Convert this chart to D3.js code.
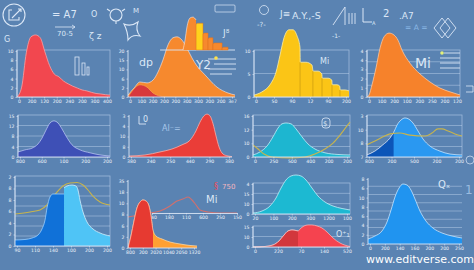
<!DOCTYPE html>
<html>
<head>
<meta charset="utf-8">
<title>distributions collage</title>
<style>
  html, body { margin: 0; padding: 0; background: #5a83b2; }
  svg { display: block; }
  text { font-family: 'DejaVu Sans', sans-serif; }
</style>
<script src="https://cdn.jsdelivr.net/npm/d3@7/dist/d3.min.js"></script>
</head>
<body>
<svg id="chart" width="474" height="270"></svg>
<script>
// curve data: [x (0-100 across panel), y (0-10 = panel height)]
var redA = [[0,0],[5,2.1],[10,9.4],[15,12.8],[20,13.2],[25,12.6],[30,9.6],[35,6.7],[40,4.9],[45,4.3],[50,3.4],[55,2.8],[60,2.3],[65,1.9],[70,1.5],[75,1.3],[80,1.0],[85,0.75],[90,0.64],[95,0.5],[100,0.4]];
var orangeB = [[0,0.4],[5.6,1.9],[11.2,3.2],[17.8,3.0],[23.4,3.6],[28,5.3],[32.7,7.9],[37.4,11.1],[42,12.6],[45.8,12.8],[50.5,12.1],[55.1,10.4],[59.8,8.3],[64.5,6.6],[72,4.7],[83.2,2.1],[93.5,0.85],[100,0.43]];
var darkRedB = [[0,0],[4.7,1.5],[11.2,2.6],[17.8,2.1],[23.4,0.85],[30,0.2],[34.6,0]];
var humpB = [[51.4,10],[53.3,12.1],[55.1,14.9],[57.9,16.8],[60.7,17.0],[63.6,16.4]];
var barsB = [[63.6,70.1,15.7],[70.1,74.8,13.6],[74.8,79.4,12.6],[79.4,87.9,11.5],[87.9,93.5,10.6]];
var yellowC = [[0,0.4],[8.4,1.1],[16.8,2.6],[23.2,5.3],[27.4,8.9],[31.6,12.6],[36.8,14.3],[41.1,14.3],[45.3,13.0],[48.4,10.6],[48.7,7.4],[54.7,7.4],[61,6.8],[62.3,5.5],[67.4,5.5],[71.4,4.9],[71.8,4.0],[77.9,4.0],[81.9,3.6],[82.3,2.6],[87.4,2.6],[90.3,2.3],[90.7,1.5],[95.8,1.5],[100,1.3]];
var stepsC = [48.5, 62, 71.6, 82.1, 90.5];
var orangeD = [[0,0],[2.2,0.43],[5.4,2.6],[9.7,6.2],[14,10.4],[18.3,12.8],[23.7,13.6],[29,13.2],[33.3,12.1],[37.6,10],[46.2,7.2],[57,4.9],[67.7,3.2],[78.5,1.9],[89.2,1.1],[100,0.43]];
var indigoE = [[0,1.2],[7.6,1.7],[15.2,2.1],[21.7,3.1],[26.1,4.5],[30.4,6.4],[34.8,8.1],[39.1,8.6],[43.5,8.1],[47.8,6.7],[52.2,5.0],[58.7,2.9],[67.4,1.7],[78.3,1.0],[89.1,0.5],[100,0.24]];
var redF = [[0,0.24],[15.5,0.48],[30.1,1.2],[41.7,1.9],[51.5,2.9],[59.2,4.0],[65,6.2],[68.9,8.3],[72.8,9.8],[75.7,10.2],[78.6,9.8],[81.6,7.9],[84.5,5.0],[87.4,2.4],[91.3,0.7],[96.1,0.24],[100,0.1]];
var cyanG = [[0,0.48],[7.2,1.2],[14.4,2.6],[20.6,4.8],[25.8,6.9],[29.9,7.9],[34,8.1],[39.2,7.9],[44.3,6.7],[50.5,4.8],[56.7,3.1],[63.9,1.9],[74.2,1.0],[87.6,0.6],[100,0.48]];
var lineG = [[0,2.9],[5.2,1.9],[11.3,0.7],[19.6,0],[38.1,-0.2],[53.6,0],[63.9,0.7],[74.2,1.9],[82.5,3.3],[89.7,5.2],[95.9,7.1],[100,8.3]];
var blueH = [[0,0.48],[8.4,1.4],[16.8,2.9],[24.2,4.5],[28.4,6.0],[31.6,7.6],[35.8,8.8],[40,9.3],[44.2,9.0],[48.4,8.1],[53.7,6.2],[58.9,4.3],[66.3,2.6],[76.8,1.4],[87.4,0.7],[100,0.48]];
var lineH = [[0,2.9],[8.4,3.8],[16.8,4.8],[24.2,5.5],[34.7,5.7],[45.3,5.2],[61.1,5.0],[68.4,5.7],[74.7,6.7],[78.9,6.7],[85.3,6.2],[92.6,5.5],[100,5.0]];
var darkI = [[0,0.86],[10.5,0.93],[17.9,1.14],[24.2,1.57],[28.4,2.43],[31.6,3.71],[33.7,5.43],[36.8,7.0],[40,7.43],[45.3,7.43],[51.6,7.43]];
var lightI = [[51.6,8.29],[54.7,8.57],[60,8.71],[64.2,8.57],[66.3,8.0],[68.4,6.57],[71.6,4.86],[75.8,3.43],[82.1,2.43],[89.5,1.86],[100,1.43]];
var lineI = [[0,4.57],[15.8,4.86],[26.3,5.14],[33.7,5.86],[38.9,6.86],[44.2,7.71],[50.5,8.57],[57.9,9.0],[65.3,9.07],[71.6,8.71],[76.8,8.0],[82.1,7.14],[89.5,6.29],[100,5.86]];
var curveJ = [[0,0],[4.3,1.76],[8.7,3.97],[13,5.88],[17.4,6.76],[21.7,7.06],[26.1,6.91],[30.4,6.18],[33.3,4.71],[36.2,2.65],[40.6,1.76],[49.3,1.32],[60.9,0.88],[75.4,0.59],[89.9,0.37],[100,0.29]];
var lineJ = [[0,4.56],[31.9,5.15],[46.4,5.44],[60.9,6.18],[71,6.91],[79.7,7.21],[87,7.5],[92.8,7.06],[98.6,6.32],[104.3,5.59],[115.9,5.29],[133.3,5.15],[158,5.15]];
var cyanK = [[0,0.32],[9.3,0.97],[17.5,2.58],[23.7,5.16],[28.9,8.39],[34,10.97],[39.2,12.26],[44.3,12.58],[49.5,12.26],[54.6,10.97],[60.8,8.39],[67,5.81],[74.2,3.87],[82.5,2.58],[91.8,1.77],[100,1.29]];
var redK = [[0,0],[12.4,0.24],[20.6,0.95],[26.8,2.86],[32,5.71],[36.1,7.62],[40.2,8.1],[44.3,7.86],[46.4,7.62],[48.5,8.57],[52.6,10],[56.7,10.5],[60.8,10.5],[66,10],[71.1,9.05],[76.3,7.14],[82.5,4.29],[89.7,1.9],[100,0.24]];
var blueL = [[0,0.76],[7.4,1.21],[14.9,1.97],[20.2,3.33],[24.5,5.15],[28.7,7.12],[33,8.48],[37.2,9.09],[41.5,8.94],[45.7,8.18],[50,6.82],[55.3,5.0],[61.7,3.48],[69.1,2.42],[78.7,1.67],[89.4,1.21],[100,0.91]];

// tick labels (as printed, bottom to top for y)
var xLabA = ["0","200","120","200","240","200","300","400"], yLabA = ["0","2","4","6","8","10"];
var xLabB = ["0","100","200","200","200","300","300","200","200","3e7"], yLabB = ["0","2","6","10","15","20"];
var xLabC = ["0","50","90","12","90","200"], yLabC = ["0","5","10"];
var xLabD = ["0","100","200","100","200","250","200","120"], yLabD = ["0","1","2","3","4","4"];
var xLabE = ["800","600","100","200","200"], yLabE = ["0","4","8","12","15"];
var xLabF = ["380","240","250","440","290","380"], yLabF = ["0","8","10","4","3"];
var xLabG = ["0","250","500","400","200","200"], yLabG = ["0","10","12","16"];
var xLabH = ["800","200","500","200","200"], yLabH = ["7","8","10","3"];
var xLabI = ["90","110","140","100","200","200"], yLabI = ["0","2","4","6","8","8","2"];
var xLabJ = ["800","200","2020","1040","2050","1320"], yLabJ = ["0","2","6","8","10","18","35"];
var xLabJ2 = ["640","180","110","600","250","150"];
var xLabK = ["20","100","200","300","1200","100"], yLabK = ["0","10","15","4"];
var xLabK2 = ["0","220","70","140","520"], yLabK2 = ["0","10","15"];
var xLabL = ["0","200","140","160","200","200","250"], yLabL = ["0","2","4","6","8","10","6","8"];

var LIGHT = "#dbe7f6", GRID = "rgba(214,230,250,0.55)", EDGE = "rgba(255,240,235,0.75)";
var svg = d3.select("#chart");

var panels = [
  {x0:17, x1:110, y0:97, y1:50, box:true, grid:0, xl:xLabA, yl:yLabA,
   layers:[{type:"area", data:redA, fill:"#f2474f", edge:"#ffa3a3"}]},
  {x0:128, x1:235, y0:97, y1:50, box:false, grid:0, xl:xLabB, yl:yLabB,
   layers:[{type:"area", data:orangeB, fill:"#f6892e"},
           {type:"area", data:darkRedB, fill:"#d8383c", edge:"#f6a04a"},
           {type:"hline", x:[30,100], y:10},
           {type:"area", data:humpB, fill:"#f6892e", base:10},
           {type:"bars", data:barsB, fills:["#ffd21c","#f6892e","#f6892e","#f6892e","#f6892e"], base:10}]},
  {x0:254, x1:349, y0:97, y1:50, box:true, grid:1, xl:xLabC, yl:yLabC,
   layers:[{type:"area", data:yellowC, fill:"#fbc516", edge:"#fff1a8"},
           {type:"vlines", data:stepsC, src:yellowC, stroke:"#c99a10"}]},
  {x0:367, x1:460, y0:97, y1:50, box:true, grid:3, xl:xLabD, yl:yLabD,
   layers:[{type:"area", data:orangeD, fill:"#f6822b", edge:"#ffc9a0"}]},
  {x0:18, x1:110, y0:157, y1:115, box:true, grid:3, xl:xLabE, yl:yLabE,
   layers:[{type:"area", data:indigoE, fill:"#3e50b6", edge:"#b9c6f2"}]},
  {x0:129, x1:232, y0:157, y1:115, box:false, grid:0, xl:xLabF, yl:yLabF,
   layers:[{type:"area", data:redF, fill:"#ea3d38", edge:"#ffb0a8"}]},
  {x0:253, x1:350, y0:157, y1:115, box:true, grid:3, xl:xLabG, yl:yLabG,
   layers:[{type:"area", data:cyanG, fill:"#1db6d0", edge:"#c6f2fa"},
           {type:"line", data:lineG, stroke:"#c8b44c"}]},
  {x0:367, x1:462, y0:157, y1:115, box:true, grid:3, xl:xLabH, yl:yLabH,
   layers:[{type:"area", data:blueH, fill:"#2a98f1", edge:"#cde8ff"},
           {type:"area", data:blueH, fill:"#0c55b8", clip:[0,28]},
           {type:"line", data:lineH, stroke:"#c8b44c"}]},
  {x0:15, x1:110, y0:246, y1:176, box:true, grid:6, xl:xLabI, yl:yLabI,
   layers:[{type:"line", data:lineI, stroke:"#c8b44c"},
           {type:"area", data:darkI, fill:"#1071d8", edge:"#9fd2ff"},
           {type:"area", data:lightI, fill:"#4fc4f6", edge:"#d8f3ff"}]},
  {x0:128, x1:197, y0:248, y1:180, box:false, grid:0, xl:xLabJ, yl:yLabJ,
   layers:[{type:"line", data:lineJ, stroke:"#d0706e"},
           {type:"axis2", x:[34.8,158], y:5.15, labels:xLabJ2},
           {type:"area", data:curveJ, fill:"#ffa032", edge:"#ffd9a3"},
           {type:"area", data:curveJ, fill:"#e63a31", clip:[0,36.2], edge:"#ffb0a0"}]},
  {x0:253, x1:350, y0:214, y1:183, box:true, grid:2, xl:xLabK, yl:yLabK,
   layers:[{type:"area", data:cyanK, fill:"#1cb9d2", edge:"#c6f2fa"}]},
  {x0:253, x1:350, y0:247, y1:226, box:true, grid:1, xl:xLabK2, yl:yLabK2,
   layers:[{type:"area", data:redK, fill:"#f5434f", edge:"#ffb0b0"},
           {type:"area", data:redK, fill:"#d2373c", clip:[0,46.4]}]},
  {x0:368, x1:462, y0:244, y1:178, box:false, grid:7, xl:xLabL, yl:yLabL,
   layers:[{type:"area", data:blueL, fill:"#2094f0", edge:"#cde8ff"}]}
];

var clipId = 0;
panels.forEach(function (p) {
  var x = d3.scaleLinear().domain([0, 100]).range([p.x0, p.x1]);
  var y = d3.scaleLinear().domain([0, 10]).range([p.y0, p.y1]);
  var g = svg.append("g");

  // grid
  for (var i = 1; i <= p.grid; i++) {
    var v = 10 * i / (p.grid + 1);
    if (p.grid == 1) v = 5;
    g.append("line").attr("x1", p.x0).attr("x2", p.x1).attr("y1", y(v)).attr("y2", y(v))
      .attr("stroke", GRID).attr("stroke-width", 0.7);
  }
  if (p.box) {
    g.append("rect").attr("x", p.x0).attr("y", p.y1).attr("width", p.x1 - p.x0).attr("height", p.y0 - p.y1)
      .attr("fill", "none").attr("stroke", GRID).attr("stroke-width", 0.8);
  }

  var area = function (base) {
    return d3.area().x(function (d) { return x(d[0]); }).y0(y(base || 0))
      .y1(function (d) { return y(d[1]); }).curve(d3.curveMonotoneX);
  };
  var line = d3.line().x(function (d) { return x(d[0]); }).y(function (d) { return y(d[1]); })
    .curve(d3.curveMonotoneX);

  p.layers.forEach(function (L) {
    if (L.type == "area") {
      var gg = g.append("g");
      if (L.clip) {
        var id = "clip" + (clipId++);
        svg.append("clipPath").attr("id", id).append("rect")
          .attr("x", x(L.clip[0])).attr("y", 0).attr("width", x(L.clip[1]) - x(L.clip[0])).attr("height", 270);
        gg.attr("clip-path", "url(#" + id + ")");
      }
      gg.append("path").datum(L.data).attr("d", area(L.base)).attr("fill", L.fill);
      gg.append("path").datum(L.data).attr("d", line).attr("fill", "none")
        .attr("stroke", L.edge || EDGE).attr("stroke-width", 0.9).attr("stroke-opacity", 0.85);
    } else if (L.type == "line") {
      g.append("path").datum(L.data).attr("d", line).attr("fill", "none")
        .attr("stroke", L.stroke).attr("stroke-width", 1.1);
    } else if (L.type == "bars") {
      L.data.forEach(function (b, k) {
        g.append("path")
          .attr("d", "M" + x(b[0]) + "," + y(L.base) + "V" + (y(b[2]) + 1.5) +
                "Q" + x(b[0]) + "," + y(b[2]) + " " + (x(b[0]) + 1.5) + "," + y(b[2]) +
                "H" + x(b[1]) + "V" + y(L.base) + "Z")
          .attr("fill", L.fills[k]).attr("stroke", "#e0701c").attr("stroke-width", 0.5);
      });
    } else if (L.type == "hline") {
      g.append("line").attr("x1", x(L.x[0])).attr("x2", x(L.x[1])).attr("y1", y(L.y)).attr("y2", y(L.y))
        .attr("stroke", LIGHT).attr("stroke-width", 0.9);
    } else if (L.type == "vlines") {
      L.data.forEach(function (v) {
        var top = L.src.filter(function (d) { return d[0] >= v; })[0];
        g.append("line").attr("x1", x(v)).attr("x2", x(v)).attr("y1", y(0)).attr("y2", y(top[1]))
          .attr("stroke", L.stroke).attr("stroke-width", 0.7);
      });
    } else if (L.type == "axis2") {
      var x2 = d3.scaleLinear().domain([0, L.labels.length - 1]).range([x(L.x[0]), x(L.x[1])]);
      var ax2 = g.append("g").attr("transform", "translate(0," + y(L.y) + ")")
        .call(d3.axisBottom(x2).ticks(L.labels.length).tickValues(d3.range(L.labels.length))
          .tickFormat(function (d) { return L.labels[d]; }).tickSize(1.5).tickPadding(1.5));
      styleAxis(ax2);
    }
  });

  // axes
  var nx = p.xl.length, ny = p.yl.length;
  var xa = d3.scaleLinear().domain([0, nx - 1]).range([p.x0 + 2, p.x1 - 3]);
  var ya = d3.scaleLinear().domain([0, ny - 1]).range([p.y0, p.y1 + 1]);
  var gx = g.append("g").attr("transform", "translate(0," + p.y0 + ")")
    .call(d3.axisBottom(xa).tickValues(d3.range(nx)).tickFormat(function (d) { return p.xl[d]; })
      .tickSize(1.5).tickSizeOuter(0).tickPadding(1.5));
  gx.select(".domain").attr("d", "M" + p.x0 + ",0H" + p.x1);
  styleAxis(gx);
  var gy = g.append("g").attr("transform", "translate(" + p.x0 + ",0)")
    .call(d3.axisLeft(ya).tickValues(d3.range(ny)).tickFormat(function (d) { return p.yl[d]; })
      .tickSize(1.5).tickSizeOuter(0).tickPadding(2));
  gy.select(".domain").attr("d", "M0," + p.y0 + "V" + p.y1);
  styleAxis(gy);
});

function styleAxis(a) {
  a.selectAll(".domain").attr("stroke", LIGHT).attr("stroke-width", 0.9);
  a.selectAll(".tick line").attr("stroke", LIGHT).attr("stroke-width", 0.6);
  a.selectAll("text").attr("fill", "#eef4fb").attr("font-size", 4.6).attr("font-family", "DejaVu Sans");
}

// decorative icons and stray text
var deco = svg.append("g").attr("fill", "none").attr("stroke", LIGHT).attr("stroke-width", 1.1);
deco.append("circle").attr("cx", 14).attr("cy", 15).attr("r", 11);
deco.append("path").attr("d", "M12,10H9V20H19V17M12,18L21,9M18,9H21V12");
deco.append("circle").attr("cx", 116).attr("cy", 15).attr("r", 6);
deco.append("path").attr("d", "M110,11L107,9M122,11L125,9M116,21L116,24");
deco.append("path").attr("d", "M124,24Q131,27 138,22Q135,30 140,36Q132,34 128,40Q128,32 124,24Z");
deco.append("path").attr("d", "M55,27H75M72,25L75,27L72,29").attr("stroke-width", 0.8);
deco.append("rect").attr("x", 215).attr("y", 5).attr("width", 20).attr("height", 7).attr("rx", 1).attr("stroke-width", 0.7);
deco.append("rect").attr("x", 75).attr("y", 57).attr("width", 4).attr("height", 18).attr("stroke-width", 0.8);
deco.append("rect").attr("x", 82).attr("y", 63).attr("width", 3).attr("height", 12).attr("stroke-width", 0.8);
deco.append("rect").attr("x", 87).attr("y", 67).attr("width", 2).attr("height", 8).attr("stroke-width", 0.8);
deco.append("circle").attr("cx", 264).attr("cy", 10).attr("r", 4.5).attr("stroke-width", 0.8);
deco.append("path").attr("d", "M333,25L345,7V25M349,13V24M352,13V24M355,13V24").attr("stroke-width", 0.9);
deco.append("path").attr("d", "M363,8V22H372").attr("stroke-width", 1);
deco.append("path").attr("d", "M442,18L450,28L442,38L434,28Z M448,18L456,28L448,38L440,28Z").attr("stroke-width", 0.9);
deco.append("path").attr("d", "M139,116V124H146").attr("stroke-width", 0.9);
deco.append("rect").attr("x", 322).attr("y", 118).attr("width", 8).attr("height", 10).attr("rx", 3).attr("stroke-width", 0.8);
deco.append("circle").attr("cx", 470).attr("cy", 160).attr("r", 4).attr("stroke-width", 0.7);
deco.append("path").attr("d", "M466,86H473V92H466").attr("stroke-width", 0.8);
// legend strokes
var leg = svg.append("g").attr("stroke", LIGHT).attr("stroke-width", 0.9);
[[208,236,59],[214,236,64],[208,236,69],[210,232,74]].forEach(function (l) {
  leg.append("line").attr("x1", l[0]).attr("x2", l[1]).attr("y1", l[2]).attr("y2", l[2]);
});
[[444,460,53],[440,460,58],[440,460,63],[440,460,68]].forEach(function (l) {
  leg.append("line").attr("x1", l[0]).attr("x2", l[1]).attr("y1", l[2]).attr("y2", l[2]);
});
svg.append("circle").attr("cx", 216).attr("cy", 58).attr("r", 1.8).attr("fill", "#ffe14a");
svg.append("circle").attr("cx", 442).attr("cy", 53).attr("r", 1.8).attr("fill", "#e3f07a");

var notes = [
  ["G", 4, 42, 8, LIGHT], ["= A7", 52, 18, 10, LIGHT], ["70-5", 57, 36, 7, LIGHT], ["O", 91, 17, 8, LIGHT],
  ["ζ z", 89, 39, 9, LIGHT], ["M", 133, 13, 7, LIGHT], ["J\u2078", 223, 36, 9, LIGHT], ["dp", 139, 66, 11, LIGHT],
  ["Y2", 196, 69, 12, LIGHT], ["Mi", 320, 64, 8, LIGHT], ["Mi", 415, 68, 14, LIGHT],
  ["-?-", 257, 27, 7, LIGHT], ["J\u2261", 280, 17, 9, LIGHT], ["A.Y.,-S", 292, 19, 9.5, LIGHT], ["-1-", 332, 38, 6, LIGHT],
  ["A", 372, 25, 5, LIGHT], ["2", 383, 17, 10, LIGHT], [".A7", 399, 19, 9, LIGHT], ["= A =", 405, 30, 7.5, "#8ab8e6"],
  ["0", 143, 122, 8, LIGHT], ["Al\u207B=", 162, 131, 8, "#a9c8ea"], ["$", 323, 126, 7, LIGHT],
  ["750", 222, 189, 7, "#f4b7c0"], ["\u00A7", 214, 189, 8, "#ef4a5a"], ["Mi", 206, 203, 10, LIGHT],
  ["O\u207A\u2081", 336, 237, 8, LIGHT], ["Q\u2093", 438, 188, 10, LIGHT], ["1", 465, 194, 12, "#9bbce0"]
];
svg.append("g").selectAll("text").data(notes).join("text")
  .attr("x", function (d) { return d[1]; }).attr("y", function (d) { return d[2]; })
  .attr("font-size", function (d) { return d[3]; }).attr("fill", function (d) { return d[4]; })
  .attr("font-family", "Liberation Sans, Arial, sans-serif")
  .text(function (d) { return d[0]; });

svg.append("text").attr("x", 366).attr("y", 263).attr("font-size", 11)
  .attr("font-family", "Liberation Sans, Arial, sans-serif").attr("fill", "#ffffff")
  .text("www.editverse.com");
</script>
</body>
</html>
